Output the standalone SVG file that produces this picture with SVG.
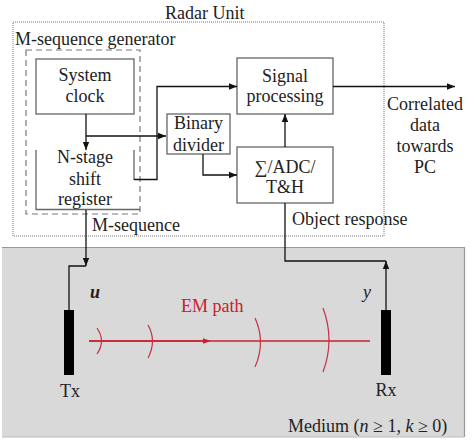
<svg xmlns="http://www.w3.org/2000/svg" width="474" height="447" viewBox="0 0 474 447">
<defs>
<style>
text{font-size:18px;fill:#222}
.c{text-anchor:middle}
.box{fill:#fff;stroke:#666;stroke-width:1.3}
.ln{fill:none;stroke:#111;stroke-width:1.3}
.red{fill:none;stroke:#c8202e;stroke-width:1.3}
.arc{fill:none;stroke:#c83040;stroke-width:1.2}
</style>
<marker id="ah" viewBox="0 0 10 10" refX="10" refY="5" markerWidth="8" markerHeight="8" markerUnits="userSpaceOnUse" orient="auto"><path d="M0,1 L10,5 L0,9 z" fill="#111"/></marker>
<marker id="ahr" viewBox="0 0 10 10" refX="5" refY="5" markerWidth="8" markerHeight="8" markerUnits="userSpaceOnUse" orient="auto"><path d="M0,1.5 L10,5 L0,8.5 z" fill="#c8202e"/></marker>
</defs>
<rect width="474" height="447" fill="#fff"/>
<g id="medium">
<rect x="2" y="247" width="462" height="190" fill="#d9d9d9"/>
<path d="M2,247.5 H464.5 V437" fill="none" stroke="#999" stroke-width="1.2"/>
<path d="M2,437 H464" fill="none" stroke="#bbb" stroke-width="1"/>
<text font-family="Liberation Serif" x="288" y="432" font-size="17">Medium (<tspan font-style="italic">n</tspan> ≥  1, <tspan font-style="italic">k</tspan> ≥ 0)</text>
</g>
<g id="radar-unit">
<rect x="13" y="22" width="371" height="214" fill="none" stroke="#777" stroke-width="1" stroke-dasharray="1,1"/>
<text font-family="Liberation Serif" x="165" y="19" font-size="17">Radar Unit</text>
</g>
<g id="mseq-gen">
<rect x="26" y="50" width="114" height="164" fill="none" stroke="#777" stroke-width="1.2" stroke-dasharray="6,4"/>
<text font-family="Liberation Serif" x="15" y="45">M-sequence generator</text>
</g>
<g id="system-clock">
<rect class="box" x="36" y="59" width="98" height="55"/>
<text font-family="Liberation Serif" class="c" x="85" y="81">System</text>
<text font-family="Liberation Serif" class="c" x="85" y="102">clock</text>
</g>
<g id="shift-register">
<path d="M36,150 V209.5 H140 M134,150 V180" fill="none" stroke="#666" stroke-width="1.3"/>
<text font-family="Liberation Serif" class="c" x="85" y="163">N-stage</text>
<text font-family="Liberation Serif" class="c" x="85" y="185">shift</text>
<text font-family="Liberation Serif" class="c" x="85" y="205">register</text>
</g>
<g id="binary-divider">
<rect class="box" x="167" y="114" width="63" height="40"/>
<text font-family="Liberation Serif" class="c" x="198.5" y="129">Binary</text>
<text font-family="Liberation Serif" class="c" x="198.5" y="151">divider</text>
</g>
<g id="signal-processing">
<rect class="box" x="237" y="58" width="96" height="56"/>
<text font-family="Liberation Serif" class="c" x="285" y="82">Signal</text>
<text font-family="Liberation Serif" class="c" x="285" y="102">processing</text>
</g>
<g id="adc">
<rect class="box" x="237" y="147" width="96" height="56"/>
<text font-family="Liberation Serif" class="c" x="285" y="173">∑/ADC/</text>
<text font-family="Liberation Serif" class="c" x="285" y="193">T&amp;H</text>
</g>
<g id="output-label">
<text font-family="Liberation Serif" class="c" x="425" y="110">Correlated</text>
<text font-family="Liberation Serif" class="c" x="425" y="131">data</text>
<text font-family="Liberation Serif" class="c" x="425" y="152">towards</text>
<text font-family="Liberation Serif" class="c" x="425" y="173">PC</text>
</g>
<g id="labels">
<text font-family="Liberation Serif" x="92" y="231">M-sequence</text>
<text font-family="Liberation Serif" x="292" y="225">Object response</text>
</g>
<g id="tx">
<rect x="64" y="310" width="10" height="65" fill="#000"/>
<text font-family="Liberation Serif" class="c" x="70" y="397">Tx</text>
<text font-family="Liberation Serif" x="90" y="298" font-weight="bold" font-style="italic" font-size="20">u</text>
</g>
<g id="rx">
<rect x="381" y="310" width="10" height="65" fill="#000"/>
<text font-family="Liberation Serif" class="c" x="386" y="396">Rx</text>
<text font-family="Liberation Serif" x="363" y="298" font-style="italic" font-size="20">y</text>
</g>
<g id="em-path">
<text font-family="Liberation Serif" x="181" y="312" style="fill:#c8202e">EM path</text>
<path class="red" d="M89,341 H370"/>
<path class="red" d="M89,341 H207" marker-end="url(#ahr)"/>
<path class="arc" d="M97,328 Q106,341 97,354"/>
<path class="arc" d="M148,325 Q157,341 148,358"/>
<path class="arc" d="M255,318 Q266,342 255,367"/>
<path class="arc" d="M323,308 Q335,340 323,372"/>
</g>
<g id="connectors">
<path class="ln" d="M86,114 V150" marker-end="url(#ah)"/>
<path class="ln" d="M86,136 H166" marker-end="url(#ah)"/>
<path class="ln" d="M134,179.5 H157 V86.5 H237" marker-end="url(#ah)"/>
<path class="ln" d="M203,154 V175 H237" marker-end="url(#ah)"/>
<path class="ln" d="M285,147 V114" marker-end="url(#ah)"/>
<path class="ln" d="M333,86.5 H455" marker-end="url(#ah)"/>
<path class="ln" d="M86,210 V266" marker-end="url(#ah)"/>
<path class="ln" d="M86,266 H69 V310"/>
<path class="ln" d="M386,310 V261" marker-end="url(#ah)"/>
<path class="ln" d="M386,261 H285 V203"/>
</g>
</svg>
